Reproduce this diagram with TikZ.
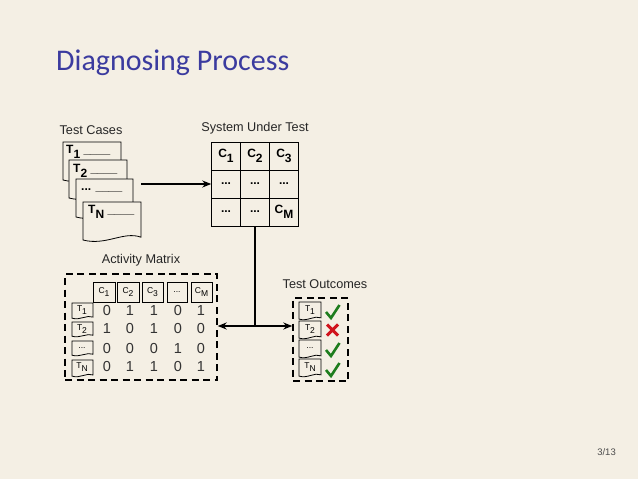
\documentclass[tikz,border=0pt]{standalone}
\usepackage{fontspec}
\setmainfont{Liberation Sans}
\newfontfamily\titlefont{Carlito}
\usepackage{tikz}
\usetikzlibrary{positioning,arrows.meta}
\definecolor{slidebg}{HTML}{F4EFE4}
\definecolor{titleblue}{HTML}{3B3B9F}
\definecolor{okgreen}{HTML}{1E7D1E}
\definecolor{badred}{HTML}{D0141E}
\newcommand{\docpath}[4]{(#1,#2) -- (#1+#3,#2) -- (#1+#3,#2+0.88*#4) .. controls (#1+0.7*#3,#2+0.72*#4) and (#1+0.4*#3,#2+1.1*#4) .. (#1,#2+0.95*#4) -- cycle}
\newcommand{\okmark}[2]{\draw[okgreen,line width=2.6pt] (#1,#2) -- ++(5,6) -- ++(8.5,-13);}
\newcommand{\badmark}[2]{\draw[badred,line width=3pt] (#1,#2) ++(-5.5,-5.5) -- ++(11,11) ++(-11,0) -- ++(11,-11);}
\newcommand{\dotlbl}{...}
\tikzset{
 x=1pt,y=-1pt,
 lbl/.style={font=\fontsize{12.7}{14}\selectfont,text=black!85,inner sep=0pt},
 doc/.style={draw=black,line width=0.8pt,fill=slidebg},
 doclbl/.style={anchor=west,inner sep=0pt,font=\bfseries\fontsize{12}{14}\selectfont},
 cellbox/.style={draw=black,line width=0.9pt,minimum width=28.6pt,minimum height=28pt,inner sep=0pt,font=\bfseries\fontsize{12}{14}\selectfont},
 headbox/.style={draw=black,line width=0.8pt,minimum height=20pt,inner sep=0pt,font=\fontsize{8.5}{10}\selectfont},
 val/.style={inner sep=0pt,font=\fontsize{14.5}{15}\selectfont,text=black!80},
 small/.style={inner sep=0pt,font=\fontsize{8.5}{10}\selectfont},
 dashbox/.style={draw=black,line width=1.4pt,dash pattern=on 7pt off 4.5pt},
 conn/.style={line width=1.4pt,draw=black,-{Stealth[length=9pt,width=7pt]}}
}
\begin{document}
\begin{tikzpicture}
\useasboundingbox[fill=slidebg] (0,0) rectangle (638,479);
\node[anchor=west,inner sep=0pt,text=titleblue,font=\titlefont\fontsize{30}{32}\selectfont] (title) at (56,63) {Diagnosing Process};
\node[lbl] (lblcases) at (91,130) {Test Cases};
\node[lbl] (lblsut) at (255,128) {System Under Test};
\node[lbl] (lblmatrix) at (141,260) {Activity Matrix};
\node[lbl] (lbloutcomes) at (325,284) {Test Outcomes};
% stacked test cases
\draw[doc] \docpath{63}{142}{58}{40};
\draw[doc] \docpath{69}{160}{58}{40};
\draw[doc] \docpath{76}{179}{57}{40};
\draw[doc] \docpath{83}{202}{58}{40};
\node[doclbl] (case1) at (66,152) {T\raisebox{-5pt}{1} \_\_\_\_};
\node[doclbl] (case2) at (73,170.5) {T\raisebox{-5pt}{2} \_\_\_\_};
\node[doclbl] (case3) at (81,190) {... \_\_\_\_};
\node[doclbl] (case4) at (88,212) {T\raisebox{-5pt}{N} \_\_\_\_};
\coordinate (casesout) at (141,184);
% system under test
\node[cellbox] (c11) at (226,156) {C\raisebox{-5pt}{1}};
\node[cellbox] (c12) at (255,156) {C\raisebox{-5pt}{2}};
\node[cellbox] (c13) at (284,156) {C\raisebox{-5pt}{3}};
\node[cellbox] (c21) at (226,184) {...};
\node[cellbox] (c22) at (255,184) {...};
\node[cellbox] (c23) at (284,184) {...};
\node[cellbox] (c31) at (226,212) {...};
\node[cellbox] (c32) at (255,212) {...};
\node[cellbox] (c33) at (284,212) {C\raisebox{-5pt}{M}};
\draw[conn] (casesout) -- (c21.west);
% activity matrix
\node[dashbox,minimum width=152pt,minimum height=106pt,inner sep=0pt] (matrixbox) at (141,327) {};
\node[headbox,minimum width=22pt] (h1) at (104,292) {C\raisebox{-3pt}{1}};
\node[headbox,minimum width=22pt] (h2) at (128,292) {C\raisebox{-3pt}{2}};
\node[headbox,minimum width=21pt] (h3) at (152.5,292) {C\raisebox{-3pt}{3}};
\node[headbox,minimum width=20pt] (h4) at (177,292) {...};
\node[headbox,minimum width=21pt] (h5) at (201.5,292) {C\raisebox{-3pt}{M}};
\foreach \py/\ph/\txt [count=\i] in {303/16/{T\raisebox{-3pt}{1}},322/15/{T\raisebox{-3pt}{2}},341/15/{\dotlbl},360/17/{T\raisebox{-3pt}{N}}}{
 \draw[doc] \docpath{72}{\py}{21}{\ph};
 \node[small] (rowdoc\i) at (82,\py+7.5) {\txt};
}
\foreach \py/\a/\b/\c/\d/\e in {311/0/1/1/0/1,329/1/0/1/0/0,349/0/0/0/1/0,367/0/1/1/0/1}{
 \node[val] at (107,\py) {\a};
 \node[val] at (130,\py) {\b};
 \node[val] at (154,\py) {\c};
 \node[val] at (178,\py) {\d};
 \node[val] at (201,\py) {\e};
}
% test outcomes
\node[dashbox,minimum width=55pt,minimum height=83pt,inner sep=0pt] (outbox) at (320.5,339.5) {};
\foreach \py/\txt [count=\i] in {302/{T\raisebox{-3pt}{1}},321/{T\raisebox{-3pt}{2}},340/{\dotlbl},359/{T\raisebox{-3pt}{N}}}{
 \draw[doc] \docpath{299}{\py}{22}{18};
 \node[small] (outdoc\i) at (310,\py+8) {\txt};
}
\okmark{326}{312}
\badmark{332.5}{330}
\okmark{326}{350}
\okmark{326}{370}
% connectors
\coordinate (joint) at (255,326);
\draw[line width=1.4pt] (c32.south) -- (joint);
\draw[conn] (joint) -- (matrixbox.east |- joint);
\draw[conn] (joint) -- (outbox.west |- joint);
\node[anchor=east,inner sep=0pt,font=\fontsize{9.5}{10}\selectfont,text=black!70] (pagenum) at (616,452) {3/13};
\end{tikzpicture}
\end{document}
